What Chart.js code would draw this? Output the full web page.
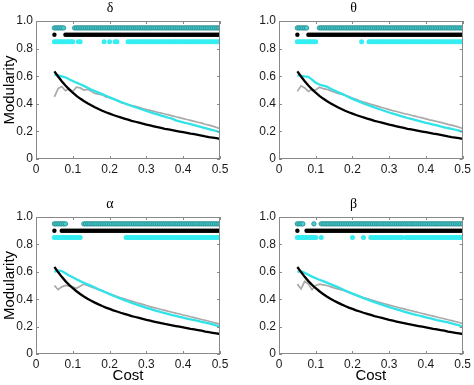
<!DOCTYPE html>
<html><head><meta charset="utf-8">
<script src="https://cdn.jsdelivr.net/npm/chart.js@4.4.1/dist/chart.umd.min.js"></script>
<style>
html,body{margin:0;padding:0;background:#fff;}
body{width:474px;height:385px;position:relative;overflow:hidden;}
canvas{position:absolute;}
</style></head><body>
<canvas id="c0" width="243" height="190" style="left:0;top:0"></canvas>
<canvas id="c1" width="231" height="190" style="left:243px;top:0"></canvas>
<canvas id="c2" width="243" height="189" style="left:0;top:196px"></canvas>
<canvas id="c3" width="231" height="189" style="left:243px;top:196px"></canvas>
<script>
// ---------------- DATA ----------------
const panelTitles = ['δ', 'θ', 'α', 'β'];
const xTicks = [0, 0.1, 0.2, 0.3, 0.4, 0.5];
const yTicks = [0, 0.2, 0.4, 0.6, 0.8, 1];
const cost = [0.05,0.06,0.07,0.08,0.09,0.10,0.11,0.12,0.13,0.14,0.15,0.16,0.17,0.18,0.19,0.20,0.21,0.22,0.23,0.24,0.25,0.26,0.27,0.28,0.29,0.30,0.31,0.32,0.33,0.34,0.35,0.36,0.37,0.38,0.39,0.40,0.41,0.42,0.43,0.44,0.45,0.46,0.47,0.48,0.49,0.50];

const blackCurve = [.635,.598,.563,.532,.505,.480,.458,.438,.420,.404,.389,.375,.362,.350,.339,.329,.319,.310,.301,.293,.285,.277,.270,.263,.256,.249,.243,.237,.231,.225,.219,.214,.209,.204,.199,.194,.189,.184,.180,.175,.170,.164,.159,.155,.151,.146];

const deltaCyan = [.612,.606,.598,.592,.578,.565,.553,.542,.530,.516,.503,.492,.481,.470,.458,.447,.436,.425,.414,.404,.394,.384,.375,.366,.357,.348,.339,.331,.323,.315,.307,.299,.292,.280,.273,.266,.259,.252,.245,.238,.231,.224,.217,.210,.203,.192];
const deltaGray = [.45,.51,.525,.495,.51,.49,.52,.515,.50,.505,.49,.475,.47,.465,.45,.445,.435,.425,.41,.403,.395,.388,.381,.374,.366,.359,.352,.346,.339,.333,.326,.320,.313,.306,.300,.293,.286,.280,.273,.266,.260,.252,.245,.238,.229,.220];

const thetaCyan = [.608,.602,.598,.595,.575,.553,.540,.532,.525,.510,.497,.486,.474,.462,.448,.436,.425,.414,.403,.393,.383,.373,.364,.355,.346,.337,.329,.321,.313,.305,.297,.290,.283,.276,.269,.262,.256,.249,.243,.236,.230,.224,.218,.212,.205,.196];
const thetaGray = [.49,.53,.515,.49,.505,.50,.52,.51,.505,.495,.485,.475,.47,.462,.452,.442,.432,.422,.413,.405,.397,.389,.381,.373,.366,.358,.350,.344,.337,.330,.324,.317,.311,.304,.298,.291,.284,.278,.272,.265,.258,.251,.245,.238,.230,.222];

const alphaCyan = [.60,.61,.605,.59,.573,.56,.545,.532,.52,.508,.497,.485,.473,.461,.449,.437,.425,.414,.404,.393,.383,.373,.364,.355,.346,.337,.329,.321,.313,.305,.298,.291,.284,.278,.271,.265,.259,.253,.247,.241,.235,.229,.223,.216,.209,.200];
const alphaGray = [.50,.47,.49,.50,.495,.49,.48,.495,.51,.50,.49,.48,.47,.46,.45,.44,.43,.42,.41,.402,.394,.386,.378,.370,.362,.354,.346,.339,.332,.325,.318,.311,.305,.298,.292,.285,.279,.272,.266,.259,.252,.246,.239,.232,.225,.218];

const betaCyan = [.60,.605,.592,.578,.565,.553,.542,.532,.521,.510,.499,.488,.476,.464,.452,.441,.430,.419,.408,.398,.388,.378,.369,.360,.351,.342,.334,.326,.318,.310,.302,.295,.288,.281,.274,.267,.261,.255,.248,.242,.236,.230,.224,.217,.210,.198];
const betaGray = [.51,.475,.53,.51,.47,.50,.51,.505,.50,.492,.483,.475,.468,.46,.45,.44,.43,.421,.412,.404,.396,.388,.380,.372,.365,.357,.350,.343,.336,.329,.322,.316,.309,.303,.296,.289,.283,.276,.270,.263,.257,.250,.244,.237,.230,.222];

// dot rows: runs of costs (step 0.005) where a dot is drawn
const rowLevels = [0.95, 0.9, 0.85];
const deltaTopRuns = [[0.05,0.075],[0.105,0.5]];
const deltaMidRuns = [[0.05,0.05],[0.08,0.5]];
const deltaLowRuns = [[0.05,0.10],[0.115,0.12],[0.185,0.185],[0.2,0.2],[0.215,0.22],[0.25,0.5]];
const thetaTopRuns = [[0.05,0.075],[0.11,0.5]];
const thetaMidRuns = [[0.05,0.05],[0.08,0.5]];
const thetaLowRuns = [[0.05,0.10],[0.225,0.225],[0.245,0.5]];
const alphaTopRuns = [[0.05,0.08],[0.13,0.5]];
const alphaMidRuns = [[0.05,0.05],[0.07,0.5]];
const alphaLowRuns = [[0.05,0.12],[0.245,0.5]];
const betaTopRuns = [[0.05,0.065],[0.095,0.095],[0.115,0.5]];
const betaMidRuns = [[0.05,0.05],[0.075,0.5]];
const betaLowRuns = [[0.05,0.10],[0.115,0.115],[0.2,0.2],[0.23,0.23],[0.25,0.335],[0.345,0.5]];

// ---------------- BUILD ----------------
function runsToPoints(runs, level){
  const pts = [];
  runs.forEach(([a,b])=>{
    for(let k=Math.round(a*200); k<=Math.round(b*200); k++) pts.push({x:k/200, y:level});
  });
  return pts;
}
function toXY(ys){ return cost.map((c,i)=>({x:c, y:ys[i]})); }

const boxPlugin = {
  id:'box',
  afterDraw(chart){
    const {ctx, chartArea:a, scales:{x,y}} = chart;
    ctx.save();
    ctx.strokeStyle = '#8a8a8a';
    ctx.lineWidth = 1;
    ctx.strokeRect(Math.round(a.left)+0.5, Math.round(a.top)+0.5, Math.round(a.right-a.left)-1, Math.round(a.bottom-a.top)-1);
    ctx.beginPath();
    x.ticks.forEach(t=>{
      const p = Math.round(x.getPixelForValue(t.value))+0.5;
      ctx.moveTo(p, a.bottom); ctx.lineTo(p, a.bottom-3);
      ctx.moveTo(p, a.top); ctx.lineTo(p, a.top+3);
    });
    y.ticks.forEach(t=>{
      const p = Math.round(y.getPixelForValue(t.value))+0.5;
      ctx.moveTo(a.left, p); ctx.lineTo(a.left+3, p);
      ctx.moveTo(a.right, p); ctx.lineTo(a.right-3, p);
    });
    ctx.stroke();
    ctx.restore();
  }
};

const sans = 'Arial, "Liberation Sans", sans-serif';
function makeChart(id, idx, cyan, gray, topRuns, midRuns, lowRuns, showY, showX, padRight){
  new Chart(document.getElementById(id), {
    type:'scatter',
    data:{datasets:[
      {data:toXY(blackCurve), showLine:true, borderColor:'#000', borderWidth:2.3, pointRadius:0, tension:0},
      {data:toXY(cyan), showLine:true, borderColor:'#2fe3e8', borderWidth:2.3, pointRadius:0, tension:0},
      {data:toXY(gray), showLine:true, borderColor:'#a9a9a9', borderWidth:1.7, pointRadius:0, tension:0},
      {data:runsToPoints(topRuns, rowLevels[0]), pointRadius:2.2, backgroundColor:'#45cfd2', borderColor:'#2a8f92', borderWidth:0.9},
      {data:runsToPoints(midRuns, rowLevels[1]), pointRadius:2.2, backgroundColor:'#000', borderColor:'#000', borderWidth:0},
      {data:runsToPoints(lowRuns, rowLevels[2]), pointRadius:2.5, backgroundColor:'#35eef2', borderColor:'#35eef2', borderWidth:0}
    ]},
    options:{
      responsive:false, animation:false, devicePixelRatio:1,
      layout:{padding:{left:0, right:padRight, top:0, bottom:0}},
      plugins:{
        legend:{display:false}, tooltip:{enabled:false},
        title:{display:true, text:panelTitles[idx], color:'#000', font:{family:'"Liberation Serif", "DejaVu Serif", serif', size:14, weight:'normal'}, padding:{top:0,bottom:4.2}}
      },
      scales:{
        x:{type:'linear', min:0, max:0.5,
          afterBuildTicks(s){ s.ticks = xTicks.map(v=>({value:v})); },
          afterFit(s){ s.height = 31; },
          grid:{display:false, drawTicks:false}, border:{display:false},
          ticks:{color:'#1a1a1a', padding:3, maxRotation:0, autoSkip:false, font:{family:sans, size:12}},
          title:{display:showX, text:'Cost', color:'#000', font:{family:sans, size:15}, padding:{top:0,bottom:0}}
        },
        y:{type:'linear', min:0, max:1,
          afterBuildTicks(s){ s.ticks = yTicks.map(v=>({value:v})); },
          afterFit(s){ s.width = 36; },
          grid:{display:false, drawTicks:false}, border:{display:false},
          ticks:{color:'#1a1a1a', padding:3, autoSkip:false, font:{family:sans, size:12}},
          title:{display:showY, text:'Modularity', color:'#000', font:{family:sans, size:15}, padding:{top:1,bottom:0}}
        }
      }
    },
    plugins:[boxPlugin]
  });
}
makeChart('c0', 0, deltaCyan, deltaGray, deltaTopRuns, deltaMidRuns, deltaLowRuns, true, false, 23);
makeChart('c1', 1, thetaCyan, thetaGray, thetaTopRuns, thetaMidRuns, thetaLowRuns, false, false, 10);
makeChart('c2', 2, alphaCyan, alphaGray, alphaTopRuns, alphaMidRuns, alphaLowRuns, true, true, 23);
makeChart('c3', 3, betaCyan, betaGray, betaTopRuns, betaMidRuns, betaLowRuns, false, true, 10);
</script>
</body></html>
